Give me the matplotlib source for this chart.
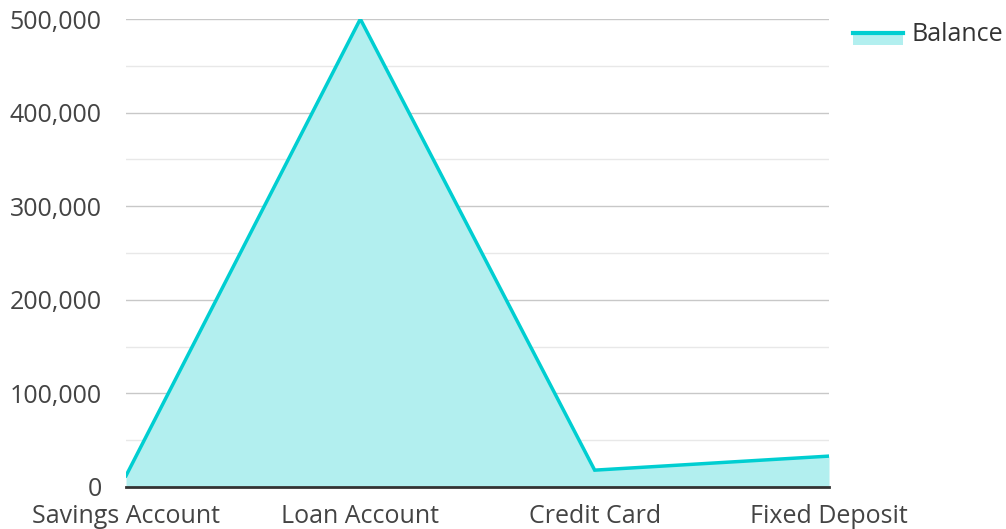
import matplotlib
matplotlib.use("Agg")
import matplotlib.pyplot as plt
from matplotlib.ticker import MultipleLocator, FuncFormatter
from matplotlib.legend_handler import HandlerBase
from matplotlib.patches import Rectangle
from matplotlib.lines import Line2D

categories = ["Savings Account", "Loan Account", "Credit Card", "Fixed Deposit"]
balance = [12000, 500000, 18000, 33000]
series_name = "Balance"

LINE = "#00CED1"
FILL = "#B2EFEF"

plt.rcParams['font.family'] = ['Open Sans', 'DejaVu Sans']

fig = plt.figure(figsize=(10.06, 5.29), dpi=100)
ax = fig.add_axes([126/1006, 1 - 487/529, (829-126)/1006, (487-19)/529])

x = list(range(len(categories)))
ax.fill_between(x, balance, 0, color=FILL, linewidth=0, zorder=2)
ax.plot(x, balance, color=LINE, linewidth=2.5, zorder=3, solid_joinstyle='miter')

ax.set_xlim(0, len(categories) - 1)
ax.set_ylim(0, 500000)
ax.set_xticks(x)
ax.set_xticklabels(categories)
ax.yaxis.set_major_locator(MultipleLocator(100000))
ax.yaxis.set_minor_locator(MultipleLocator(50000))
ax.yaxis.set_major_formatter(FuncFormatter(lambda v, p: f"{int(v):,}"))

ax.grid(axis='y', which='major', color='#c8c8c8', linewidth=1, zorder=1)
ax.grid(axis='y', which='minor', color='#e8e8e8', linewidth=1, zorder=1)
ax.set_axisbelow(True)

for s in ['top', 'right', 'left']:
    ax.spines[s].set_visible(False)
ax.spines['bottom'].set_color('#333333')
ax.spines['bottom'].set_linewidth(2)
ax.spines['bottom'].set_zorder(4)

ax.tick_params(axis='both', which='both', length=0, labelsize=18, labelcolor='#444444')
ax.tick_params(axis='y', pad=17.5)
ax.tick_params(axis='x', pad=12)


class AreaHandler(HandlerBase):
    def create_artists(self, legend, orig_handle, xdescent, ydescent, width, height, fontsize, trans):
        ly = -ydescent + height * 0.45
        rect = Rectangle((-xdescent, ly - height * 0.7), width, height * 0.7,
                         facecolor=FILL, edgecolor='none', transform=trans)
        line = Line2D([-xdescent, -xdescent + width], [ly, ly],
                      color=LINE, linewidth=3, transform=trans)
        return [rect, line]


handle = Rectangle((0, 0), 1, 1)
leg = fig.legend([handle], [series_name], handler_map={Rectangle: AreaHandler()},
                 loc='upper left', bbox_to_anchor=(853/1006, 1 - 22/529),
                 frameon=False, fontsize=18, handlelength=2.0, handletextpad=0.33,
                 borderaxespad=0, borderpad=0)
for t in leg.get_texts():
    t.set_color('#333333')

fig.savefig("out.png", dpi=100)
